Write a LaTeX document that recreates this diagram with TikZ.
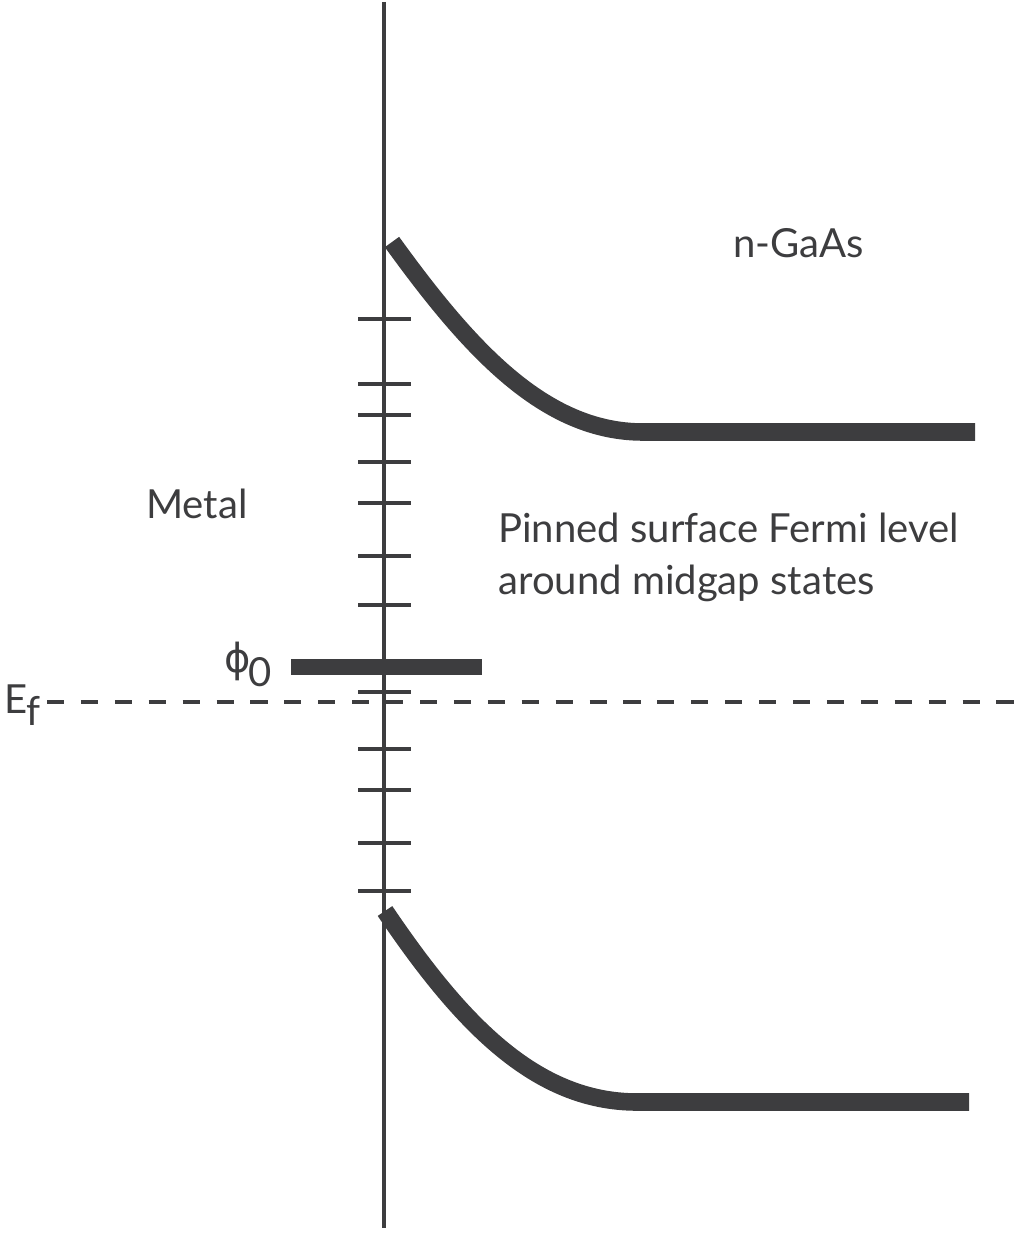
\documentclass[tikz,border=0pt]{standalone}
\usepackage{fontspec}
\setmainfont{Lato}
\newfontfamily\symfont{DejaVu Sans}
\definecolor{ink}{HTML}{3D3D3F}
\tikzset{
	band/.style={line width=10pt,color=ink},
	level/.style={line width=2.1pt,color=ink},
	lbl/.style={color=ink,font=\fontsize{22.8}{29.5}\selectfont,inner sep=0pt,align=left}
}
\begin{document}
\begin{tikzpicture}[x=0.02cm,y=-0.02cm]
	\useasboundingbox (0,0) rectangle (1020,1233);

	\coordinate (top) at (384,2);
	\coordinate (bottom) at (384,1228);
	\draw[line width=2.2pt,color=ink] (top) -- (bottom);

	% surface states
	\foreach \y in {319,384,415,462,503,556,605,692,749,790,843,891}
		\draw[level] (358,\y) -- (411,\y);

	\coordinate (c0) at (392,242);
	\coordinate (c1) at (643,432);
	\coordinate (c2) at (975,432);
	\draw[band] (c0) .. controls (470,350) and (545,432) .. (c1) -- (c2);

	\coordinate (v0) at (385,911);
	\coordinate (v1) at (637,1102);
	\coordinate (v2) at (969,1102);
	\draw[band] (v0) .. controls (460,1022) and (535,1102) .. (v1) -- (v2);

	\coordinate (p0) at (291,667);
	\coordinate (p1) at (482,667);
	\draw[line width=9.2pt,color=ink] (p0) -- (p1);

	\coordinate (f0) at (47,702);
	\coordinate (f1) at (1020,702);
	\draw[line width=2.3pt,color=ink,dash pattern=on 9.7pt off 9.6pt] (f0) -- (f1);

	\node[lbl,anchor=base west] (ngaas) at (733,257) {n-GaAs};
	\node[lbl,anchor=base west] (metal) at (146,518) {Metal};
	\node[lbl,anchor=base west] (pinned) at (498,594) {Pinned surface Fermi level\\around midgap states};
	\node[lbl,anchor=base west] (phi) at (224,672) {{\symfont\char"03D5}\kern-1.5pt\raisebox{-8pt}{0}};
	\node[lbl,anchor=base west] (ef) at (4,713) {E\kern-.5pt\raisebox{-7pt}{f}};
\end{tikzpicture}
\end{document}
